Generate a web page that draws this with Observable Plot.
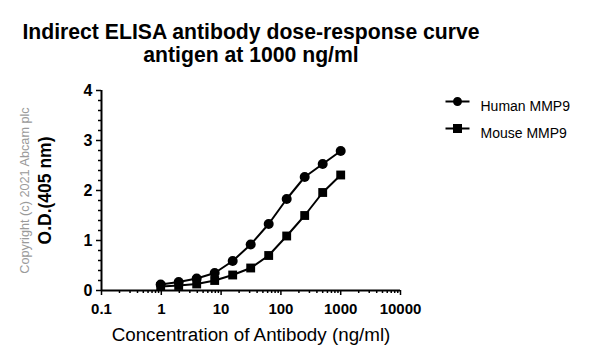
<!DOCTYPE html>
<html>
<head>
<meta charset="utf-8">
<script src="https://cdn.jsdelivr.net/npm/d3@7"></script>
<script src="https://cdn.jsdelivr.net/npm/@observablehq/plot@0.6"></script>
<style>
  html, body { margin: 0; padding: 0; background: #fff; }
  #chart { width: 596px; height: 361px; }
</style>
</head>
<body>
<div id="chart"></div>
<script>
// ---- data ----
const concentrations = [1000, 500, 250, 125, 62.5, 31.25, 15.625, 7.8125, 3.90625, 1.953125, 0.9765625];
const human = [2.79, 2.53, 2.27, 1.83, 1.33, 0.92, 0.59, 0.35, 0.24, 0.17, 0.12];
const mouse = [2.31, 1.96, 1.50, 1.09, 0.70, 0.45, 0.31, 0.20, 0.13, 0.10, 0.08];
const seriesNames = ["Human MMP9", "Mouse MMP9"];
const xTicks = [0.1, 1, 10, 100, 1000, 10000];
const xTickLabels = ["0.1", "1", "10", "100", "1000", "10000"];
const yTicks = [0, 1, 2, 3, 4];
const yTickLabels = ["0", "1", "2", "3", "4"];
const yMinorTicks = [0.2, 0.4, 0.6, 0.8, 1.2, 1.4, 1.6, 1.8, 2.2, 2.4, 2.6, 2.8, 3.2, 3.4, 3.6, 3.8];
const xMinorMultipliers = [2, 3, 4, 5, 6, 7, 8, 9];
const titleLines = ["Indirect ELISA antibody dose-response curve", "antigen at 1000 ng/ml"];
const xLabel = "Concentration of Antibody (ng/ml)";
const yLabel = "O.D.(405 nm)";
const copyright = "Copyright (c) 2021 Abcam plc";

const rows = [];
concentrations.forEach((c, i) => {
  rows.push({series: seriesNames[0], conc: c, od: human[i]});
  rows.push({series: seriesNames[1], conc: c, od: mouse[i]});
});
const xMinorTicks = xTicks.slice(0, -1).flatMap(t => xMinorMultipliers.map(m => t * m));
const symbolOf = {"Human MMP9": "circle", "Mouse MMP9": "square"};

// legend symbols: a short line with the marker on it
const legendCircle = {draw(ctx) { ctx.moveTo(-12, 0); ctx.lineTo(12, 0); ctx.moveTo(3.5, 0); ctx.arc(0, 0, 3.5, 0, 2 * Math.PI); ctx.closePath(); }};
const legendSquare = {draw(ctx) { ctx.moveTo(-12, 0); ctx.lineTo(12, 0); ctx.moveTo(-3.5, -3.5); ctx.lineTo(3.5, -3.5); ctx.lineTo(3.5, 3.5); ctx.lineTo(-3.5, 3.5); ctx.closePath(); }};

const font = "'Liberation Sans', Arial, sans-serif";

const chart = Plot.plot({
  width: 596,
  height: 361,
  marginTop: 90,
  marginLeft: 101,
  marginRight: 196,
  marginBottom: 71,
  style: {fontFamily: font, background: "#fff", color: "#000", overflow: "visible"},
  x: {type: "log", domain: [0.1, 10000]},
  y: {domain: [0, 4]},
  marks: [
    // minor ticks
    Plot.axisX({ticks: xMinorTicks, tickSize: 3, text: null, label: null, strokeWidth: 1.5}),
    Plot.axisY({ticks: yMinorTicks, tickSize: 3, text: null, label: null, strokeWidth: 1.5}),
    // major ticks
    Plot.axisX({ticks: xTicks, tickFormat: d => xTickLabels[xTicks.indexOf(d)], tickSize: 5, tickPadding: 8,
      fontSize: 15, fontWeight: "bold", strokeWidth: 1.5, label: null}),
    Plot.axisY({ticks: yTicks, tickFormat: d => yTickLabels[yTicks.indexOf(d)], tickSize: 5, tickPadding: 4,
      fontSize: 16, fontWeight: "bold", strokeWidth: 1.5, label: null}),
    // axis lines
    Plot.ruleX([0.1], {strokeWidth: 2}),
    Plot.ruleY([0], {strokeWidth: 2}),
    // data
    Plot.line(rows, {x: "conc", y: "od", z: "series", stroke: "#000", strokeWidth: 2}),
    Plot.dot(rows, {x: "conc", y: "od", symbol: d => symbolOf[d.series], fill: "#000", stroke: "none", r: 5}),
    // titles and labels
    Plot.text([titleLines[0]], {frameAnchor: "top", dy: -67, fontSize: 21.2, fontWeight: "bold", text: d => d}),
    Plot.text([titleLines[1]], {frameAnchor: "top", dy: -44, fontSize: 21.2, fontWeight: "bold", text: d => d}),
    Plot.text([xLabel], {frameAnchor: "bottom", dy: 50, fontSize: 18.8, text: d => d}),
    Plot.text([yLabel], {frameAnchor: "left", dx: -56, textAnchor: "middle", rotate: -90, fontSize: 17.5, fontWeight: "bold", text: d => d}),
    Plot.text([copyright], {frameAnchor: "left", dx: -77, textAnchor: "middle", rotate: -90, fontSize: 12.7, fill: "#9a9a9a", text: d => d}),
    // legend
    Plot.dot([seriesNames[0]], {frameAnchor: "top-right", dx: 57, dy: 11, symbol: legendCircle, fill: "#000", stroke: "#000", strokeWidth: 2}),
    Plot.dot([seriesNames[1]], {frameAnchor: "top-right", dx: 57, dy: 38, symbol: legendSquare, fill: "#000", stroke: "#000", strokeWidth: 2}),
    Plot.text([seriesNames[0]], {frameAnchor: "top-right", dx: 80, dy: 11, textAnchor: "start", fontSize: 14, text: d => d}),
    Plot.text([seriesNames[1]], {frameAnchor: "top-right", dx: 80, dy: 38, textAnchor: "start", fontSize: 14, text: d => d})
  ]
});
document.getElementById("chart").appendChild(chart);
</script>
</body>
</html>
